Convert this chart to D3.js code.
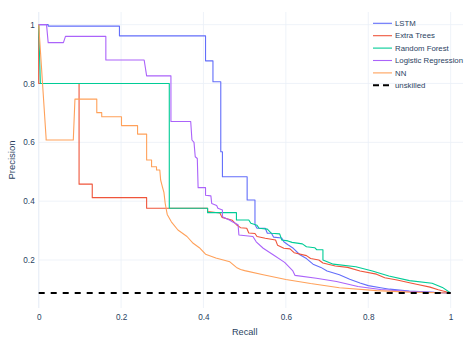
<!DOCTYPE html>
<html>
<head>
<meta charset="utf-8">
<script src="https://cdn.jsdelivr.net/npm/d3@7"></script>
<style>
  body { margin: 0; background: #fff; }
  text { font-family: "Liberation Sans", Arial, sans-serif; fill: #2a3f5f; }
</style>
</head>
<body>
<div id="chart"></div>
<script>
// precision-recall curves, [recall, precision] vertices
const lstm = [[0,1],[0.023,1],[0.023,0.995],[0.196,0.995],[0.196,0.962],[0.405,0.962],[0.405,0.877],[0.423,0.877],[0.423,0.806],
  [0.442,0.806],[0.442,0.568],[0.446,0.568],[0.446,0.483],[0.506,0.483],[0.506,0.404],[0.525,0.404],[0.525,0.32],[0.53,0.308],
  [0.55,0.308],[0.555,0.291],[0.565,0.291],[0.57,0.278],[0.59,0.275],[0.595,0.262],[0.605,0.252],[0.618,0.24],[0.634,0.218],
  [0.65,0.205],[0.666,0.186],[0.685,0.175],[0.7,0.163],[0.73,0.15],[0.755,0.135],[0.78,0.122],[0.8,0.113],[0.83,0.106],
  [0.852,0.101],[0.9,0.095],[0.96,0.09],[1,0.088]];
const extraTrees = [[0,1],[0,0.8],[0.098,0.8],[0.098,0.458],[0.13,0.458],[0.13,0.412],[0.262,0.412],[0.262,0.376],[0.41,0.376],
  [0.41,0.365],[0.44,0.36],[0.445,0.345],[0.47,0.335],[0.48,0.32],[0.49,0.31],[0.505,0.308],[0.51,0.292],[0.525,0.29],
  [0.53,0.28],[0.55,0.274],[0.575,0.268],[0.58,0.25],[0.595,0.24],[0.61,0.238],[0.62,0.225],[0.65,0.215],[0.66,0.205],
  [0.68,0.2],[0.69,0.19],[0.72,0.18],[0.75,0.175],[0.78,0.163],[0.82,0.152],[0.84,0.14],[0.87,0.132],[0.9,0.123],
  [0.92,0.117],[0.95,0.108],[0.97,0.099],[1,0.088]];
const randomForest = [[0,1],[0.004,0.8],[0.317,0.8],[0.317,0.376],[0.41,0.376],[0.41,0.361],[0.48,0.361],[0.48,0.336],
  [0.51,0.336],[0.515,0.325],[0.53,0.318],[0.535,0.308],[0.555,0.305],[0.565,0.291],[0.585,0.289],[0.59,0.268],[0.605,0.265],
  [0.615,0.26],[0.64,0.255],[0.65,0.245],[0.67,0.242],[0.675,0.235],[0.69,0.235],[0.69,0.2],[0.715,0.186],[0.77,0.177],
  [0.81,0.163],[0.85,0.146],[0.9,0.13],[0.955,0.121],[0.98,0.107],[1,0.088]];
const logReg = [[0,1],[0.019,1],[0.023,0.939],[0.06,0.939],[0.065,0.96],[0.163,0.96],[0.163,0.88],[0.256,0.88],[0.262,0.826],
  [0.321,0.826],[0.321,0.671],[0.369,0.671],[0.372,0.608],[0.377,0.6],[0.38,0.551],[0.385,0.545],[0.387,0.446],[0.405,0.446],
  [0.405,0.42],[0.418,0.418],[0.42,0.392],[0.432,0.385],[0.435,0.376],[0.446,0.37],[0.446,0.347],[0.464,0.335],[0.47,0.33],
  [0.484,0.32],[0.486,0.285],[0.52,0.28],[0.528,0.262],[0.545,0.24],[0.57,0.217],[0.597,0.192],[0.617,0.163],[0.622,0.148],
  [0.674,0.138],[0.723,0.127],[0.775,0.11],[0.83,0.1],[0.9,0.093],[1,0.088]];
const nn = [[0,1],[0.018,0.614],[0.018,0.608],[0.084,0.608],[0.088,0.747],[0.141,0.747],[0.141,0.701],[0.153,0.701],
  [0.153,0.687],[0.201,0.687],[0.201,0.657],[0.24,0.657],[0.24,0.628],[0.262,0.628],[0.262,0.54],[0.274,0.54],[0.274,0.517],
  [0.286,0.517],[0.286,0.506],[0.294,0.506],[0.296,0.472],[0.3,0.45],[0.304,0.43],[0.307,0.393],[0.31,0.37],[0.312,0.355],
  [0.322,0.33],[0.338,0.302],[0.36,0.28],[0.375,0.257],[0.39,0.242],[0.405,0.22],[0.43,0.207],[0.464,0.194],[0.48,0.175],
  [0.49,0.168],[0.5,0.164],[0.545,0.15],[0.6,0.134],[0.66,0.12],[0.73,0.106],[0.82,0.096],[0.9,0.091],[1,0.088]];
const unskilled = [[0,0.088],[1,0.088]];

const seriesNames = ["LSTM", "Extra Trees", "Random Forest", "Logistic Regression", "NN", "unskilled"];
const seriesData = [lstm, extraTrees, randomForest, logReg, nn, unskilled];
const seriesColors = ["#636efa", "#ef553b", "#00cc96", "#ab63fa", "#ffa15a", "#000000"];

const xTicks = [0, 0.2, 0.4, 0.6, 0.8, 1];
const yTicks = [0.2, 0.4, 0.6, 0.8, 1];

const width = 474, height = 346;
const plot = {left: 38.7, right: 463, top: 12, bottom: 308};

let svg = d3.select("#chart")
    .append("svg")
    .attr("width", width)
    .attr("height", height);

svg.append("rect").attr("width", width).attr("height", height).attr("fill", "#fff");

let x = d3.scaleLinear().domain([0, 1.03]).range([plot.left, plot.right]);
let y = d3.scaleLinear().domain([0.037, 1.043]).range([plot.bottom, plot.top]);

// grid
svg.append("g")
    .selectAll("line")
    .data(yTicks)
    .enter().append("line")
    .attr("x1", plot.left).attr("x2", plot.right)
    .attr("y1", d => y(d)).attr("y2", d => y(d))
    .attr("stroke", "#ebf0f8").attr("stroke-width", 0.8);

svg.append("g")
    .selectAll("line")
    .data(xTicks)
    .enter().append("line")
    .attr("x1", d => x(d)).attr("x2", d => x(d))
    .attr("y1", plot.top).attr("y2", plot.bottom)
    .attr("stroke", "#ebf0f8").attr("stroke-width", d => d === 0 ? 1.4 : 0.8);

// axes (tick labels only)
let xAxis = svg.append("g")
    .attr("transform", `translate(0, ${plot.bottom})`)
    .call(d3.axisBottom(x).tickValues(xTicks).tickSize(0).tickPadding(6).tickFormat(d3.format("~g")));
let yAxis = svg.append("g")
    .attr("transform", `translate(${plot.left}, 0)`)
    .call(d3.axisLeft(y).tickValues(yTicks).tickSize(0).tickPadding(4).tickFormat(d3.format("~g")));
[xAxis, yAxis].forEach(a => {
    a.select(".domain").remove();
    a.selectAll("text").style("font-size", "8.2px").style("font-family", "'Liberation Sans', Arial, sans-serif").attr("fill", "#2a3f5f");
});

svg.append("text")
    .attr("x", x(0.5))
    .attr("y", 335)
    .style("text-anchor", "middle")
    .style("font-size", "9.2px")
    .text("Recall");

svg.append("text")
    .attr("transform", `translate(15, ${(plot.top + plot.bottom) / 2})rotate(-90)`)
    .style("text-anchor", "middle")
    .style("font-size", "9.5px")
    .text("Precision");

// curves
let line = d3.line()
    .x(d => x(d[0]))
    .y(d => y(d[1]));

svg.append("g")
    .selectAll("path")
    .data(seriesData)
    .enter().append("path")
    .attr("d", line)
    .attr("fill", "none")
    .attr("stroke", (d, i) => seriesColors[i])
    .attr("stroke-width", (d, i) => i === 5 ? 2 : 1.1)
    .attr("stroke-dasharray", (d, i) => i === 5 ? "6,6" : null)
    .attr("stroke-linejoin", "round");

// legend
let legend = svg.append("g").attr("transform", "translate(373, 23.3)");
let rows = legend.selectAll("g")
    .data(seriesNames)
    .enter().append("g")
    .attr("transform", (d, i) => `translate(0, ${i * 12.4})`);
rows.append("line")
    .attr("x1", 0).attr("x2", 19)
    .attr("stroke", (d, i) => seriesColors[i])
    .attr("stroke-width", (d, i) => i === 5 ? 2 : 1.1)
    .attr("stroke-dasharray", (d, i) => i === 5 ? "6,4" : null);
rows.append("text")
    .attr("x", 22)
    .attr("dy", "0.35em")
    .style("font-size", "7.8px")
    .text(d => d);
</script>
</body>
</html>
